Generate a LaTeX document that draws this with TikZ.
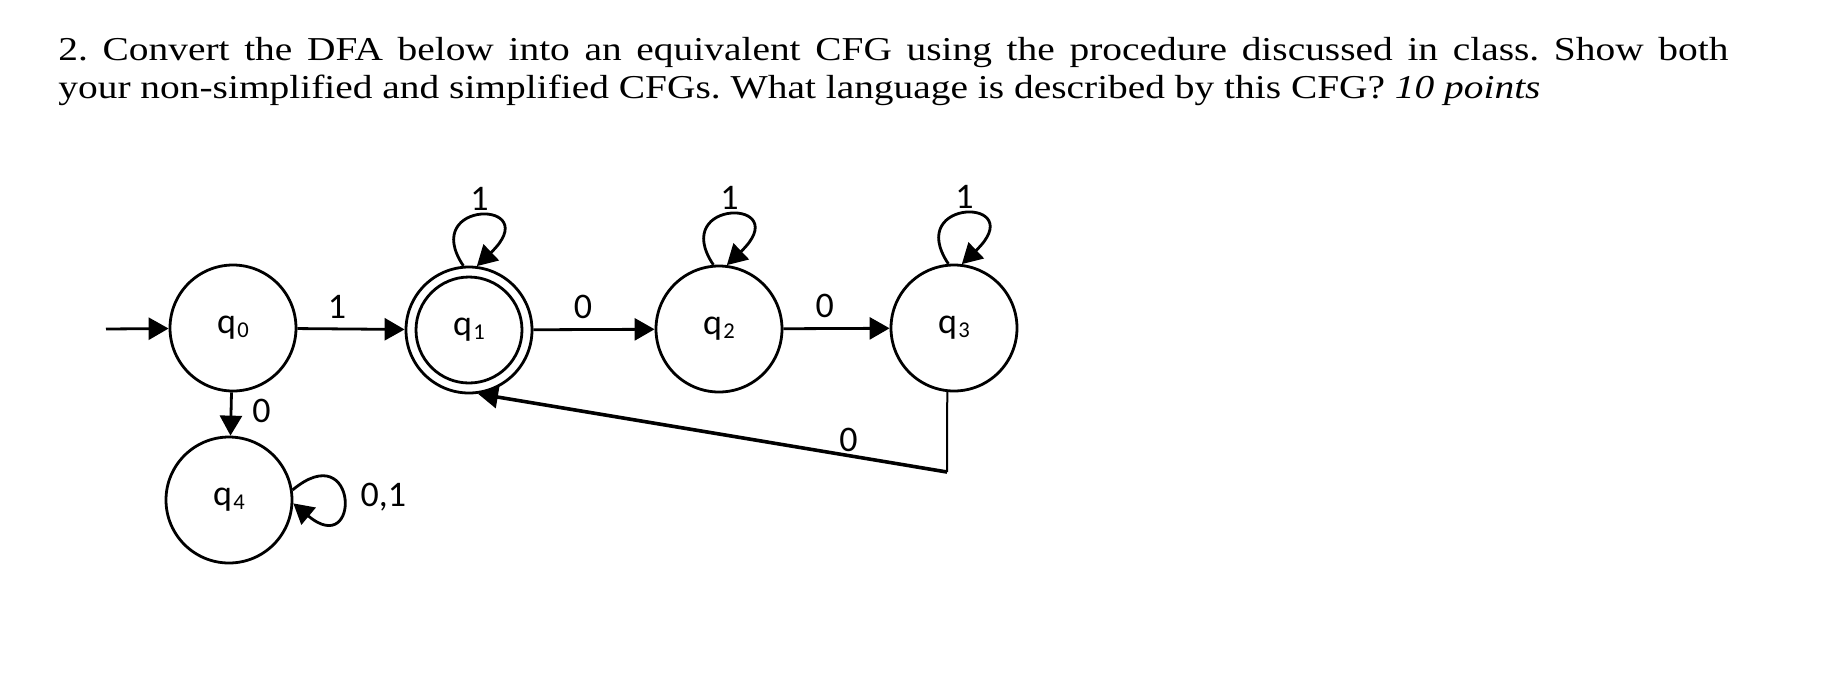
\documentclass[tikz,border=0pt]{standalone}
\usepackage{fontspec}
\setmainfont{Liberation Serif}[FakeStretch=1.18]
\newfontfamily\diagfont{Carlito}
\usetikzlibrary{arrows.meta}
\newcommand{\qsub}[1]{q\kern0.6pt\raisebox{-2pt}{\fontsize{11.3pt}{11.3pt}\selectfont #1}}
\begin{document}
\frenchspacing
\begin{tikzpicture}[x=0.5pt,y=-0.5pt,
  state/.style={circle, draw, line width=1.4pt, minimum size=63pt, inner sep=0pt,
    font=\diagfont\fontsize{18pt}{18pt}\selectfont},
  innerring/.style={circle, draw, line width=1.4pt, minimum size=53pt, inner sep=0pt},
  arr/.style={line width=1.4pt, -{Triangle[length=10pt,width=11pt]}},
  lbl/.style={font=\diagfont\fontsize{18pt}{18pt}\selectfont, inner sep=0pt},
  title/.style={anchor=base west, inner sep=0pt, font=\fontsize{16.7pt}{19pt}\selectfont}
  ]
\useasboundingbox (0,0) rectangle (1846,682);
\node[title] (t1) at (58,60) {\makebox[835pt][s]{2. Convert the DFA below into an equivalent CFG using the procedure discussed in class. Show both}};
\node[title] (t2) at (58,98.3) {your non-simplified and simplified CFGs. What language is described by this CFG? \textit{10 points}};

\node[state] (q0) at (233,328) {\qsub{0}};
\node[state] (q1) at (469,330) {\qsub{1}};
\node[innerring] (q1in) at (469,330) {};
\node[state] (q2) at (719,329) {\qsub{2}};
\node[state] (q3) at (954,328) {\qsub{3}};
\node[state] (q4) at (229,500) {\qsub{4}};

\coordinate (start) at (106,329);
\coordinate (corner) at (947,472);

\draw[arr] (start) -- (q0);
\draw[arr] (q0) -- (q1) node[lbl, pos=0.37, above=4.5pt] {1};
\draw[arr] (q1) -- (q2) node[lbl, pos=0.41, above=4.5pt] {0};
\draw[arr] (q2) -- (q3) node[lbl, pos=0.39, above=4.5pt] {0};
\draw[arr] (q0) -- (q4) node[lbl, pos=0.43, right=10pt] {0};

\draw[arr] (q1.95) .. controls +(-45,-67) and +(70,-67) .. (q1.83) node[lbl, pos=0.5, above=2pt] {1};
\draw[arr] (q2.95) .. controls +(-45,-67) and +(70,-67) .. (q2.83) node[lbl, pos=0.5, above=2pt] {1};
\draw[arr] (q3.95) .. controls +(-45,-67) and +(70,-67) .. (q3.83) node[lbl, pos=0.5, above=2pt] {1};
\draw[arr] (q4.9) .. controls +(66,-55) and +(68,57) .. (q4.-3) node[lbl, pos=0.5, right=8pt] {0,1};

\draw[line width=1pt] (q3.264) -- (corner);
\draw[arr, line width=1.8pt] (corner) -- (q1.278) node[lbl, pos=0.21, above=1pt] {0};
\end{tikzpicture}
\end{document}
